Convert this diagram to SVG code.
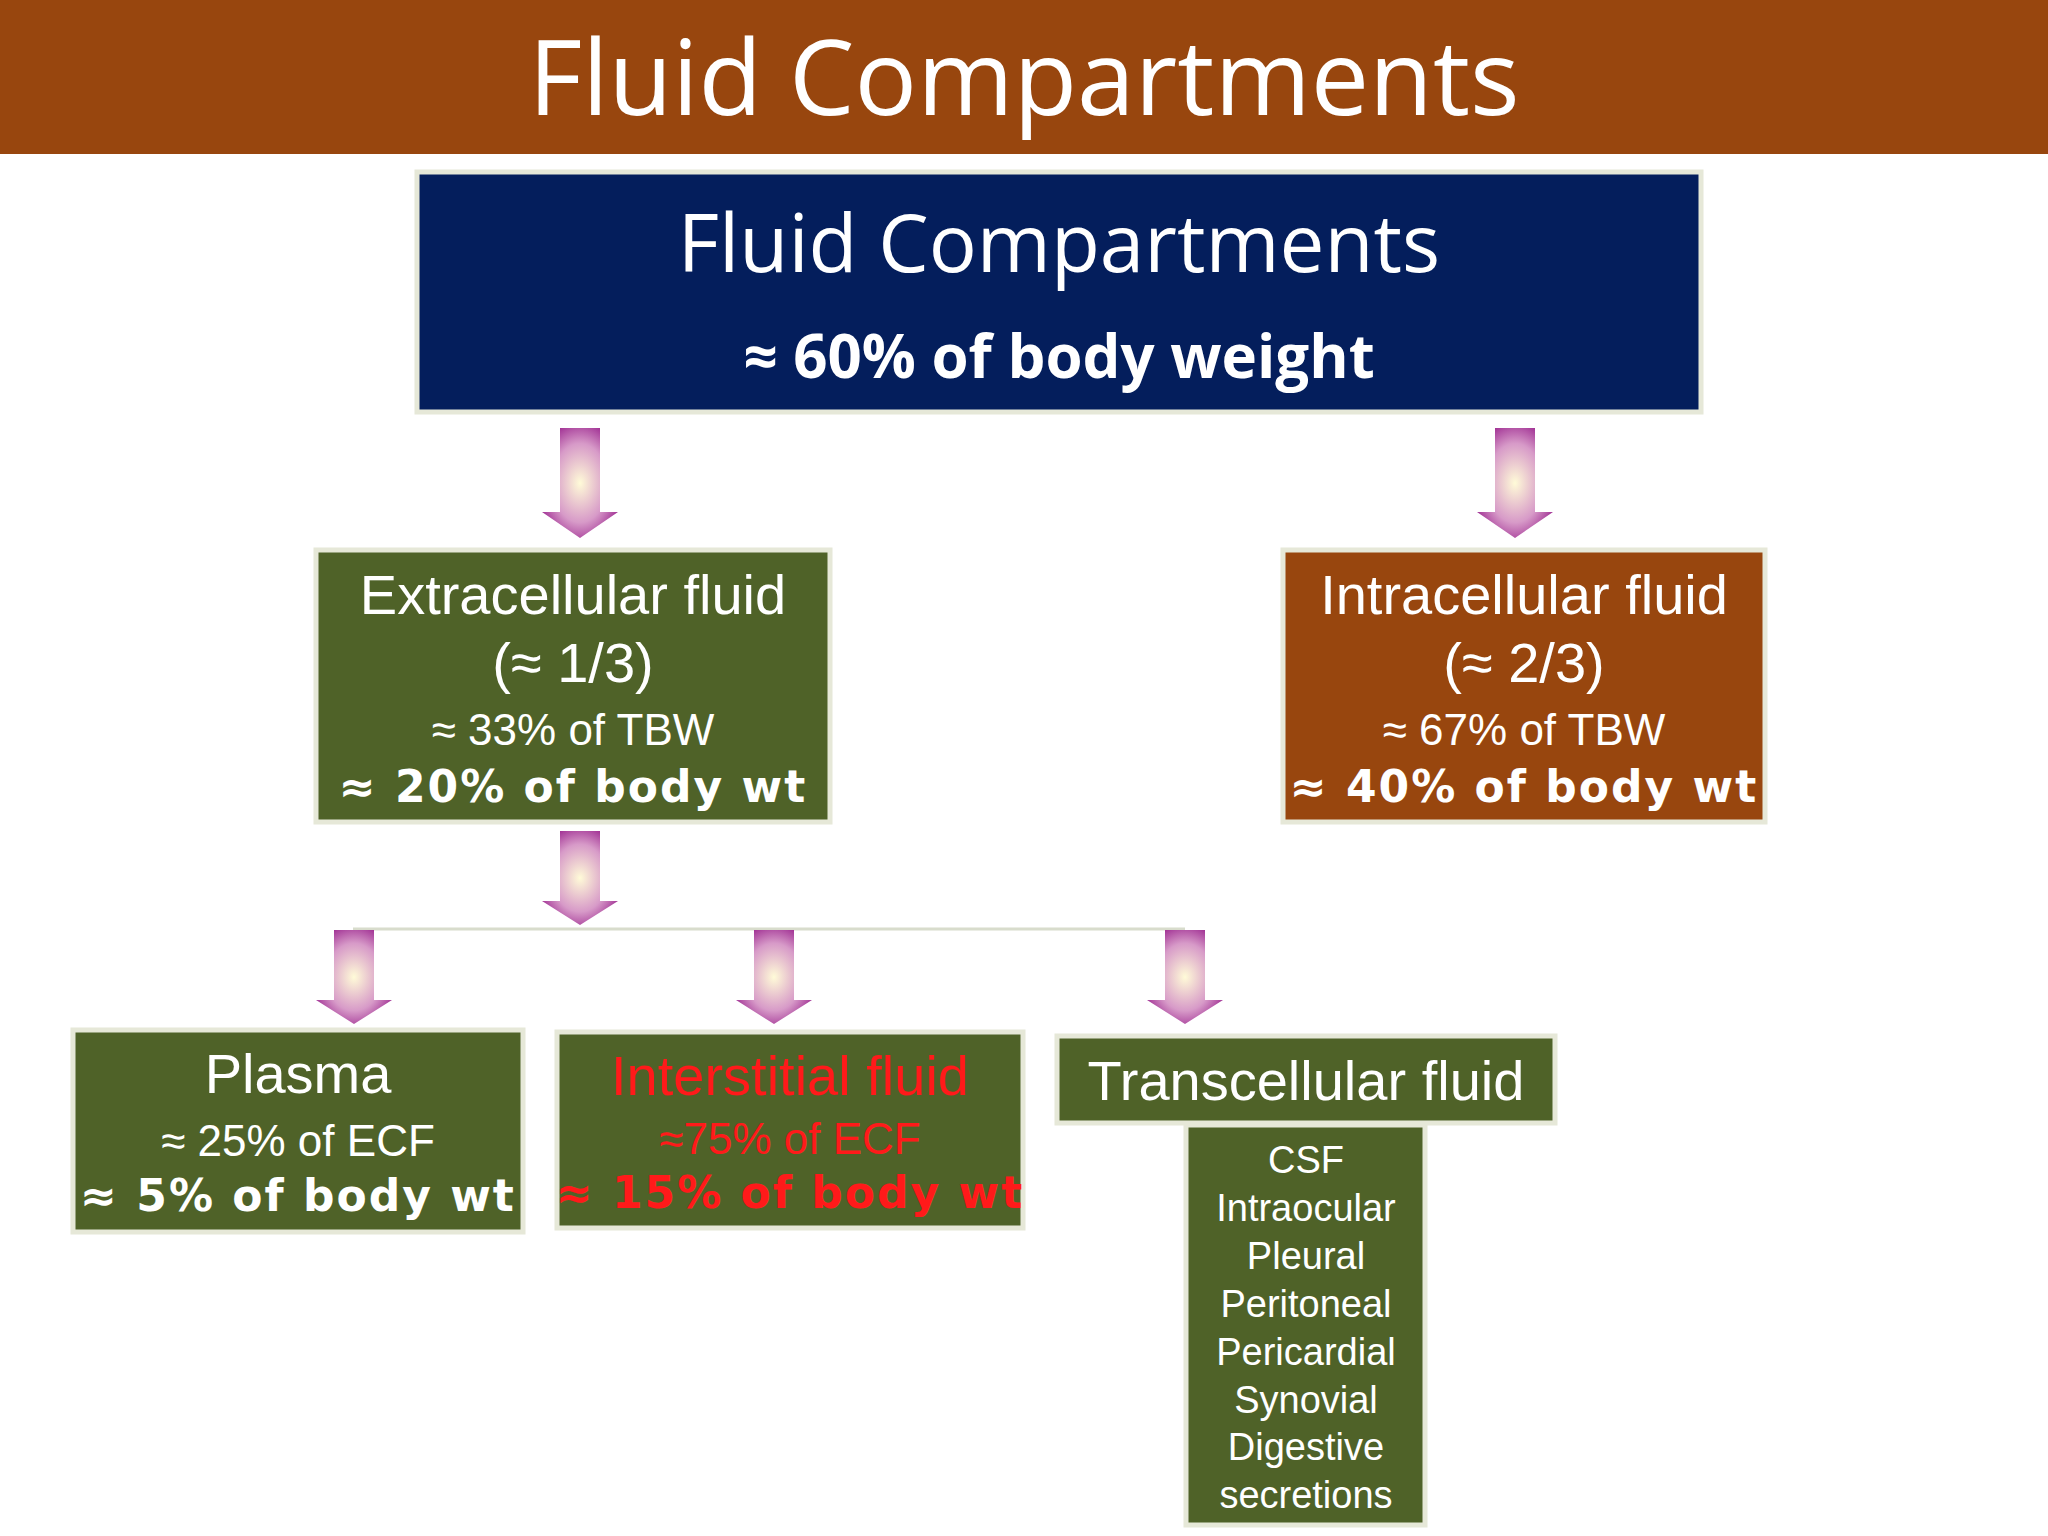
<svg xmlns="http://www.w3.org/2000/svg" width="2048" height="1536" viewBox="0 0 2048 1536">
<defs>
<linearGradient id="ag" x1="0" y1="0" x2="1" y2="0">
<stop offset="0" stop-color="#9a1f8e"/><stop offset="0.5" stop-color="#f4f0c8"/><stop offset="1" stop-color="#9a1f8e"/>
</linearGradient>
<radialGradient id="ag2" cx="0.5" cy="0.5" r="0.6">
<stop offset="0" stop-color="#fffbd8"/><stop offset="0.6" stop-color="#d79ac8"/><stop offset="1" stop-color="#98208c"/>
</radialGradient>
<path id="arr" d="M-20,0 H20 V84 H38 L0,110 L-38,84 H-20 Z" fill="url(#ag2)"/>
<path id="arrs" d="M-20,0 H20 V70 H38 L0,94 L-38,70 H-20 Z" fill="url(#ag2)"/>
</defs>
<style>
.box{stroke:#e6e8d8;stroke-width:5}
.g{fill:#4f6228}.o{fill:#98460e}
.t{font-family:"Liberation Sans",Arial,sans-serif;fill:#fff;text-anchor:middle}
.b{font-family:"DejaVu Sans",Verdana,sans-serif;font-weight:bold;fill:#fff;text-anchor:middle}
.r{fill:#ff1a1a}
</style>
<rect x="0" y="0" width="2048" height="154" fill="#98460e"/>
<text x="1024" y="115" font-family="Open Sans,Liberation Sans,sans-serif" font-size="104" fill="#fff" text-anchor="middle">Fluid Compartments</text>
<g id="connectors">
<use href="#arr" x="580" y="428"/>
<use href="#arr" x="1515" y="428"/>
<use href="#arrs" x="580" y="831"/>
<line x1="353" y1="929" x2="1185" y2="929" stroke="#d8dccc" stroke-width="3"/>
<use href="#arrs" x="354" y="930"/>
<use href="#arrs" x="774" y="930"/>
<use href="#arrs" x="1185" y="930"/>
</g>
<g id="top">
<rect class="box" x="417" y="172" width="1284" height="240" fill="#041e5c"/>
<text x="1059" y="272" font-family="Open Sans,Liberation Sans,sans-serif" font-size="80" fill="#fff" text-anchor="middle">Fluid Compartments</text>
<text x="1059" y="378" font-family="Open Sans,Liberation Sans,sans-serif" font-weight="bold" font-size="60" fill="#fff" text-anchor="middle">≈ 60% of body weight</text>
</g>
<g id="ecf">
<rect class="box g" x="316" y="550" width="514" height="272"/>
<text class="t" x="573" y="614" font-size="56">Extracellular fluid</text>
<text class="t" x="573" y="682" font-size="56">(≈ 1/3)</text>
<text class="t" x="573" y="745" font-size="44">≈ 33% of TBW</text>
<text class="b" x="573" y="802" font-size="44" letter-spacing="2">≈ 20% of body wt</text>
</g>
<g id="icf">
<rect class="box o" x="1283" y="550" width="482" height="272"/>
<text class="t" x="1524" y="614" font-size="56">Intracellular fluid</text>
<text class="t" x="1524" y="682" font-size="56">(≈ 2/3)</text>
<text class="t" x="1524" y="745" font-size="44">≈ 67% of TBW</text>
<text class="b" x="1524" y="802" font-size="44" letter-spacing="2">≈ 40% of body wt</text>
</g>
<g id="plasma">
<rect class="box g" x="73" y="1030" width="450" height="202"/>
<text class="t" x="298" y="1093" font-size="56">Plasma</text>
<text class="t" x="298" y="1156" font-size="44">≈ 25% of ECF</text>
<text class="b" x="298" y="1211" font-size="44" letter-spacing="2">≈ 5% of body wt</text>
</g>
<g id="interstitial">
<rect class="box g" x="557" y="1032" width="466" height="196"/>
<text class="t r" x="790" y="1095" font-size="56">Interstitial fluid</text>
<text class="t r" x="790" y="1154" font-size="44">≈75% of ECF</text>
<text class="b r" x="790" y="1208" font-size="44" letter-spacing="2">≈ 15% of body wt</text>
</g>
<g id="transcellular">
<rect class="box g" x="1057" y="1036" width="498" height="87"/>
<text class="t" x="1306" y="1100" font-size="56">Transcellular fluid</text>
<rect class="box g" x="1186" y="1125" width="239" height="400"/>
<text class="t" font-size="38"><tspan x="1306" y="1173">CSF</tspan><tspan x="1306" y="1221">Intraocular</tspan><tspan x="1306" y="1269">Pleural</tspan><tspan x="1306" y="1317">Peritoneal</tspan><tspan x="1306" y="1365">Pericardial</tspan><tspan x="1306" y="1413">Synovial</tspan><tspan x="1306" y="1460">Digestive</tspan><tspan x="1306" y="1508">secretions</tspan></text>
</g>
</svg>
